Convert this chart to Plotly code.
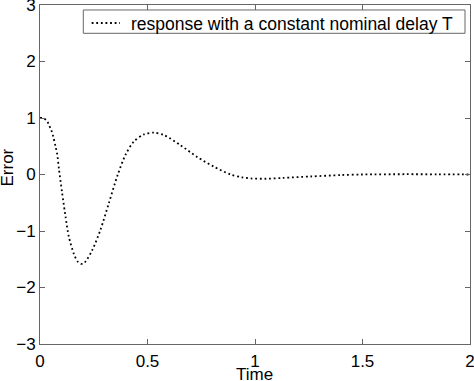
import plotly.graph_objects as go

time = [0.0, 0.01, 0.018, 0.033, 0.041, 0.052, 0.061, 0.072, 0.08, 0.088, 0.103, 0.119,
        0.134, 0.157, 0.175, 0.19, 0.2, 0.212, 0.243, 0.281, 0.32, 0.362, 0.398, 0.436,
        0.483, 0.529, 0.576, 0.653, 0.731, 0.808, 0.886, 0.94, 0.98, 1.05, 1.13, 1.26,
        1.4, 1.5, 1.7, 1.85, 2.0]
error = [1.0, 1.0, 0.99, 0.95, 0.88, 0.79, 0.68, 0.50, 0.36, 0.10, -0.33, -0.75,
         -1.10, -1.40, -1.54, -1.58, -1.58, -1.54, -1.34, -0.98, -0.51, 0.0, 0.35, 0.58,
         0.71, 0.74, 0.70, 0.52, 0.31, 0.14, 0.0, -0.05, -0.07, -0.075, -0.06, -0.035,
         -0.01, 0.0, 0.005, 0.003, 0.0]

series_name = "response with a constant nominal delay T"
x_ticks = [0, 0.5, 1, 1.5, 2]
x_tick_labels = ["0", "0.5", "1", "1.5", "2"]
y_ticks = [-3, -2, -1, 0, 1, 2, 3]
y_tick_labels = ["\u22123", "\u22122", "\u22121", "0", "1", "2", "3"]

FONT = "Liberation Sans, Arial, Helvetica, sans-serif"
DOTS = "1.8px,2.8px"

fig = go.Figure()
fig.add_trace(go.Scatter(
    x=time, y=error, mode="lines", name=series_name, showlegend=False,
    line=dict(color="black", width=1.8, dash=DOTS, shape="spline", smoothing=0.8),
))

axis_common = dict(
    showgrid=False, zeroline=False, showline=True, linecolor="#666666", linewidth=1,
    mirror="ticks", ticks="inside", ticklen=5, tickcolor="#666666", tickwidth=1,
    tickfont=dict(family=FONT, size=17, color="black"), automargin=False,
    ticklabeloverflow="allow",
)

fig.update_layout(
    width=474, height=381,
    margin=dict(l=40, r=4, t=5, b=37),
    paper_bgcolor="white", plot_bgcolor="white",
    font=dict(family=FONT, size=17, color="black"),
    showlegend=False,
    xaxis=dict(range=[0, 2], tickvals=x_ticks, ticktext=x_tick_labels,
               ticklabelstandoff=2, **axis_common),
    yaxis=dict(range=[-3, 3], tickvals=y_ticks, ticktext=y_tick_labels, **axis_common),
    shapes=[
        # legend box
        dict(type="rect", xref="paper", yref="paper", x0=0.1007, x1=0.9884,
             y0=0.9165, y1=0.9853, line=dict(color="#666666", width=1),
             fillcolor="white", layer="above"),
        # legend sample
        dict(type="line", xref="paper", yref="paper", x0=0.1202, x1=0.186,
             y0=0.9469, y1=0.9469, line=dict(color="black", width=1.8, dash=DOTS),
             layer="above"),
    ],
    annotations=[
        dict(text=series_name, xref="paper", yref="paper", x=0.2070, y=0.9440,
             xanchor="left", yanchor="middle", showarrow=False,
             font=dict(family=FONT, size=17.5, color="black")),
        dict(text="Time", xref="paper", yref="paper", x=0.4977, y=-0.0900,
             xanchor="center", yanchor="middle", showarrow=False,
             font=dict(family=FONT, size=17, color="black")),
        dict(text="Error", xref="paper", yref="paper", x=-0.0756, y=0.522,
             xanchor="center", yanchor="middle", textangle=-90, showarrow=False,
             font=dict(family=FONT, size=17, color="black")),
    ],
)

fig.write_html("out.html", config={"displayModeBar": False},
               post_script="document.body.style.margin='0';")
